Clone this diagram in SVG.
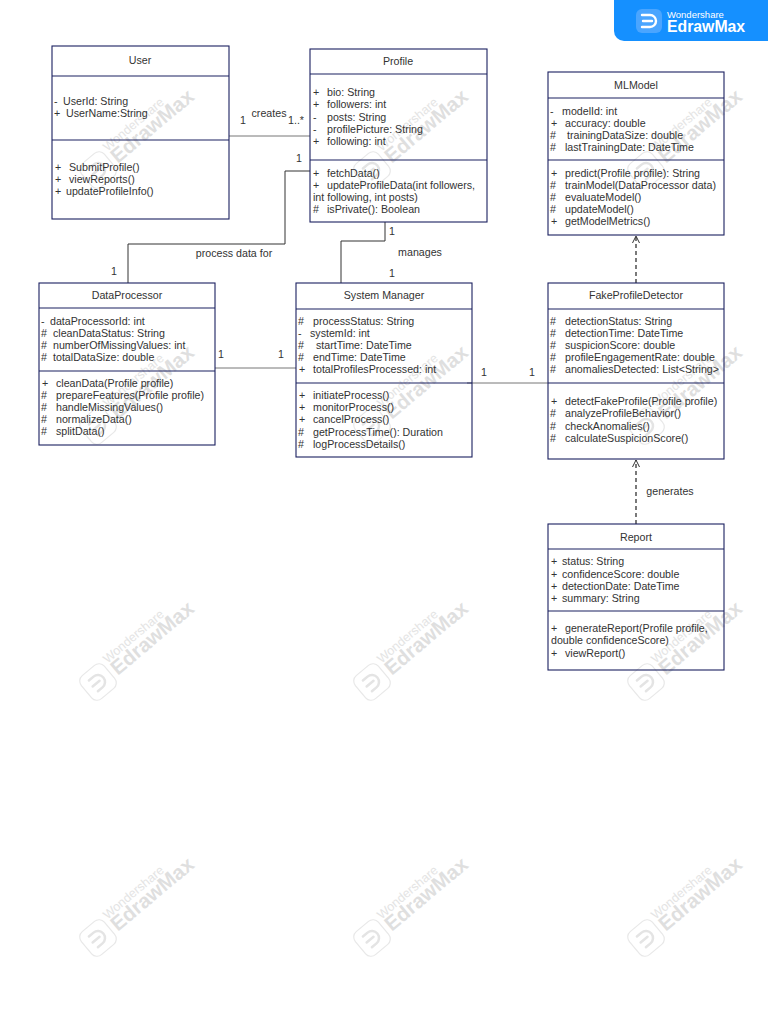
<svg xmlns="http://www.w3.org/2000/svg" width="768" height="1024" viewBox="0 0 768 1024">
<style>
text{font-family:"Liberation Sans",Arial,sans-serif;font-size:10.67px;fill:#333}
.t{text-anchor:middle}
.box{fill:none;stroke:#1b2060;stroke-width:1.1}
.div{stroke:#1b2060;stroke-width:1.1}
.c{fill:none;stroke:#333;stroke-width:1}
.g{fill:none;stroke:#777;stroke-width:1}
.d{fill:none;stroke:#333;stroke-width:1.3;stroke-dasharray:4 3}
.wm1{font-size:12.5px;fill:#e4e4e4}
.wm2{font-size:20.5px;font-weight:bold;fill:#dfdfdf}
.wmi{fill:none;stroke:#e8e8e8;stroke-width:1.2}
.wmd{fill:none;stroke:#e4e4e4;stroke-width:2.5;stroke-linecap:round}
</style>
<defs>
<marker id="open" markerWidth="10" markerHeight="10" refX="8" refY="4" orient="auto" markerUnits="userSpaceOnUse"><path d="M1 0.5L8 4L1 7.5" fill="none" stroke="#333" stroke-width="1"/></marker>
<g id="wmicon"><rect class="wmi" x="-15" y="-15" width="30" height="30" rx="7"/><path class="wmd" d="M-6-7H0A7 7 0 0 1 0 7H-6M-7 0H2"/></g>
</defs>
<rect width="768" height="1024" fill="#fff"/>
<g id="watermarks">
<g transform="translate(98 170) rotate(-40)"><use href="#wmicon"/><text class="wm1" x="19" y="-8">Wondershare</text><text class="wm2" x="19" y="8">EdrawMax</text></g>
<g transform="translate(372 170) rotate(-40)"><use href="#wmicon"/><text class="wm1" x="19" y="-8">Wondershare</text><text class="wm2" x="19" y="8">EdrawMax</text></g>
<g transform="translate(646 170) rotate(-40)"><use href="#wmicon"/><text class="wm1" x="19" y="-8">Wondershare</text><text class="wm2" x="19" y="8">EdrawMax</text></g>
<g transform="translate(98 426) rotate(-40)"><use href="#wmicon"/><text class="wm1" x="19" y="-8">Wondershare</text><text class="wm2" x="19" y="8">EdrawMax</text></g>
<g transform="translate(372 426) rotate(-40)"><use href="#wmicon"/><text class="wm1" x="19" y="-8">Wondershare</text><text class="wm2" x="19" y="8">EdrawMax</text></g>
<g transform="translate(646 426) rotate(-40)"><use href="#wmicon"/><text class="wm1" x="19" y="-8">Wondershare</text><text class="wm2" x="19" y="8">EdrawMax</text></g>
<g transform="translate(98 682) rotate(-40)"><use href="#wmicon"/><text class="wm1" x="19" y="-8">Wondershare</text><text class="wm2" x="19" y="8">EdrawMax</text></g>
<g transform="translate(372 682) rotate(-40)"><use href="#wmicon"/><text class="wm1" x="19" y="-8">Wondershare</text><text class="wm2" x="19" y="8">EdrawMax</text></g>
<g transform="translate(646 682) rotate(-40)"><use href="#wmicon"/><text class="wm1" x="19" y="-8">Wondershare</text><text class="wm2" x="19" y="8">EdrawMax</text></g>
<g transform="translate(98 938) rotate(-40)"><use href="#wmicon"/><text class="wm1" x="19" y="-8">Wondershare</text><text class="wm2" x="19" y="8">EdrawMax</text></g>
<g transform="translate(372 938) rotate(-40)"><use href="#wmicon"/><text class="wm1" x="19" y="-8">Wondershare</text><text class="wm2" x="19" y="8">EdrawMax</text></g>
<g transform="translate(646 938) rotate(-40)"><use href="#wmicon"/><text class="wm1" x="19" y="-8">Wondershare</text><text class="wm2" x="19" y="8">EdrawMax</text></g>
</g>
<g id="banner">
<path d="M614 0H768V41H624A10 10 0 0 1 614 31Z" fill="#1590ff"/>
<rect x="636" y="9" width="26" height="24" rx="6" fill="#4aa5ff"/>
<path d="M642 15H650A6 6 0 0 1 650 27H642M643 21H652" fill="none" stroke="#fff" stroke-width="2.4" stroke-linecap="round"/>
<text x="667" y="18" style="font-size:9.5px;fill:#fff">Wondershare</text>
<text x="667" y="32" style="font-size:15.8px;font-weight:bold;fill:#fff">EdrawMax</text>
</g>
<g id="connectors">
<path class="g" d="M229 136H310"/>
<path class="c" d="M310 171H285V244H128V283"/>
<path class="c" d="M385 222V241H341V283"/>
<path class="g" d="M215 368H296"/>
<path class="g" d="M467 383H548"/>
<path class="d" d="M636 283V236" marker-end="url(#open)"/>
<path class="d" d="M636 524V460" marker-end="url(#open)"/>
<text x="243" y="124" class="t">1</text>
<text x="269" y="117" class="t">creates</text>
<text x="296" y="124" class="t">1..*</text>
<text x="299" y="162" class="t">1</text>
<text x="234" y="257" class="t">process data for</text>
<text x="114" y="275" class="t">1</text>
<text x="392" y="235" class="t">1</text>
<text x="420" y="256" class="t">manages</text>
<text x="392" y="277" class="t">1</text>
<text x="221" y="358" class="t">1</text>
<text x="281" y="358" class="t">1</text>
<text x="484" y="376" class="t">1</text>
<text x="532" y="376" class="t">1</text>
<text x="670" y="495" class="t">generates</text>
</g>
<g id="user">
<rect class="box" x="52" y="46" width="177" height="173"/>
<path class="div" d="M52 76H229M52 140H229"/>
<text x="140" y="64" class="t">User</text>
<text x="54" y="105">-</text><text x="63" y="105">UserId: String</text>
<text x="54" y="117">+</text><text x="66" y="117">UserName:String</text>
<text x="55" y="171">+</text><text x="69" y="171">SubmitProfile()</text>
<text x="55" y="183">+</text><text x="69" y="183">viewReports()</text>
<text x="55" y="195">+</text><text x="66" y="195">updateProfileInfo()</text>
</g>
<g id="profile">
<rect class="box" x="310" y="49" width="177" height="173"/>
<path class="div" d="M310 74H487M310 160H487"/>
<text x="398" y="65" class="t">Profile</text>
<text x="313" y="96">+</text><text x="327" y="96">bio: String</text>
<text x="313" y="108">+</text><text x="327" y="108">followers: int</text>
<text x="313" y="121">-</text><text x="327" y="121">posts: String</text>
<text x="313" y="133">-</text><text x="327" y="133">profilePicture: String</text>
<text x="313" y="145">+</text><text x="327" y="145">following: int</text>
<text x="313" y="177">+</text><text x="327" y="177">fetchData()</text>
<text x="313" y="189">+</text><text x="327" y="189">updateProfileData(int followers,</text>
<text x="313" y="201">int following, int posts)</text>
<text x="313" y="213">#</text><text x="327" y="213">isPrivate(): Boolean</text>
</g>
<g id="mlmodel">
<rect class="box" x="548" y="72" width="176" height="163"/>
<path class="div" d="M548 98H724M548 160H724"/>
<text x="636" y="89" class="t">MLModel</text>
<text x="550" y="115">-</text><text x="562" y="115">modelId: int</text>
<text x="551" y="127">+</text><text x="565" y="127">accuracy: double</text>
<text x="550" y="139">#</text><text x="567" y="139">trainingDataSize: double</text>
<text x="550" y="151">#</text><text x="565" y="151">lastTrainingDate: DateTime</text>
<text x="551" y="177">+</text><text x="565" y="177">predict(Profile profile): String</text>
<text x="550" y="189">#</text><text x="565" y="189">trainModel(DataProcessor data)</text>
<text x="550" y="201">#</text><text x="565" y="201">evaluateModel()</text>
<text x="550" y="213">#</text><text x="565" y="213">updateModel()</text>
<text x="551" y="225">+</text><text x="565" y="225">getModelMetrics()</text>
</g>
<g id="dataprocessor">
<rect class="box" x="39" y="283" width="176" height="162"/>
<path class="div" d="M39 308H215M39 371H215"/>
<text x="127" y="299" class="t">DataProcessor</text>
<text x="41" y="325">-</text><text x="50" y="325">dataProcessorId: int</text>
<text x="41" y="337">#</text><text x="53" y="337">cleanDataStatus: String</text>
<text x="41" y="349">#</text><text x="53" y="349">numberOfMissingValues: int</text>
<text x="41" y="361">#</text><text x="53" y="361">totalDataSize: double</text>
<text x="42" y="387">+</text><text x="56" y="387">cleanData(Profile profile)</text>
<text x="41" y="399">#</text><text x="56" y="399">prepareFeatures(Profile profile)</text>
<text x="41" y="411">#</text><text x="56" y="411">handleMissingValues()</text>
<text x="41" y="423">#</text><text x="56" y="423">normalizeData()</text>
<text x="41" y="435">#</text><text x="56" y="435">splitData()</text>
</g>
<g id="systemmanager">
<rect class="box" x="296" y="283" width="176" height="174"/>
<path class="div" d="M296 309H472M296 383H472"/>
<text x="384" y="299" class="t">System Manager</text>
<text x="298" y="325">#</text><text x="313" y="325">processStatus: String</text>
<text x="298" y="337">-</text><text x="310" y="337">systemId: int</text>
<text x="298" y="349">#</text><text x="316" y="349">startTime: DateTime</text>
<text x="298" y="361">#</text><text x="313" y="361">endTime: DateTime</text>
<text x="299" y="373">+</text><text x="313" y="373">totalProfilesProcessed: int</text>
<text x="299" y="399">+</text><text x="313" y="399">initiateProcess()</text>
<text x="299" y="411">+</text><text x="313" y="411">monitorProcess()</text>
<text x="299" y="423">+</text><text x="313" y="423">cancelProcess()</text>
<text x="298" y="436">#</text><text x="313" y="436">getProcessTime(): Duration</text>
<text x="298" y="448">#</text><text x="313" y="448">logProcessDetails()</text>
</g>
<g id="fakeprofiledetector">
<rect class="box" x="548" y="283" width="176" height="176"/>
<path class="div" d="M548 309H724M548 383H724"/>
<text x="636" y="299" class="t">FakeProfileDetector</text>
<text x="550" y="325">#</text><text x="565" y="325">detectionStatus: String</text>
<text x="550" y="337">#</text><text x="565" y="337">detectionTime: DateTime</text>
<text x="550" y="349">#</text><text x="565" y="349">suspicionScore: double</text>
<text x="550" y="361">#</text><text x="565" y="361">profileEngagementRate: double</text>
<text x="550" y="373">#</text><text x="565" y="373">anomaliesDetected: List&lt;String&gt;</text>
<text x="551" y="405">+</text><text x="565" y="405">detectFakeProfile(Profile profile)</text>
<text x="550" y="417">#</text><text x="565" y="417">analyzeProfileBehavior()</text>
<text x="550" y="430">#</text><text x="565" y="430">checkAnomalies()</text>
<text x="550" y="442">#</text><text x="565" y="442">calculateSuspicionScore()</text>
</g>
<g id="report">
<rect class="box" x="548" y="524" width="176" height="146"/>
<path class="div" d="M548 549H724M548 611H724"/>
<text x="636" y="541" class="t">Report</text>
<text x="551" y="565">+</text><text x="562" y="565">status: String</text>
<text x="551" y="578">+</text><text x="562" y="578">confidenceScore: double</text>
<text x="551" y="590">+</text><text x="562" y="590">detectionDate: DateTime</text>
<text x="551" y="602">+</text><text x="562" y="602">summary: String</text>
<text x="551" y="632">+</text><text x="565" y="632">generateReport(Profile profile,</text>
<text x="551" y="644">double confidenceScore)</text>
<text x="551" y="657">+</text><text x="565" y="657">viewReport()</text>
</g>
</svg>
